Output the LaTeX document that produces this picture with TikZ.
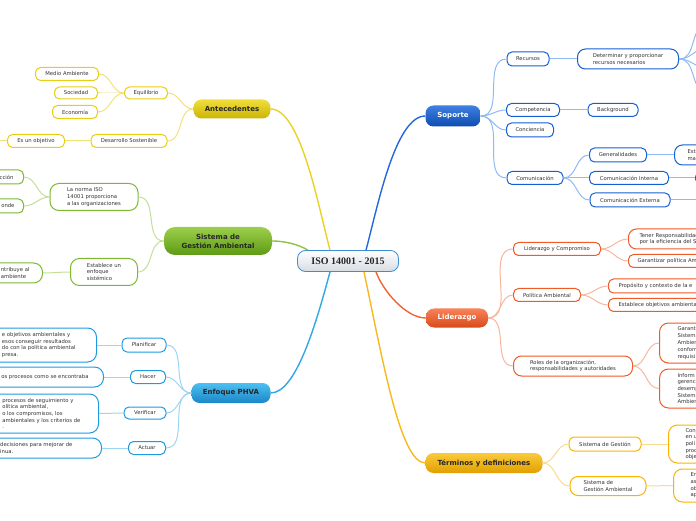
\documentclass[tikz,border=0pt]{standalone}
\usepackage{fontspec}
\setmainfont{DejaVu Sans}
\newfontfamily\isofont{Liberation Serif}
\usetikzlibrary{positioning}
\usepackage{xcolor}

\definecolor{isobord}{HTML}{3C8ED4}
\definecolor{isobot}{HTML}{D6DCE3}
\definecolor{ylwmain}{HTML}{E8D228}
\definecolor{ylwline}{HTML}{F2E27A}
\definecolor{ylwbord}{HTML}{E8CF10}
\definecolor{ylwtop}{HTML}{F0DE3C}
\definecolor{ylwbot}{HTML}{CCB406}
\definecolor{grnmain}{HTML}{8CC43C}
\definecolor{grnline}{HTML}{C4DF9A}
\definecolor{grnbord}{HTML}{7DB833}
\definecolor{grntop}{HTML}{9CCF4C}
\definecolor{grnbot}{HTML}{5E9A14}
\definecolor{cyanmain}{HTML}{2FA8E6}
\definecolor{cyanline}{HTML}{9CD6F4}
\definecolor{cyanbord}{HTML}{1E9BE0}
\definecolor{cyantop}{HTML}{4CC0F2}
\definecolor{cyanbot}{HTML}{1A86C8}
\definecolor{bluemain}{HTML}{2268DC}
\definecolor{blueline}{HTML}{90BAF2}
\definecolor{bluebord}{HTML}{1560D0}
\definecolor{bluetop}{HTML}{3E80E0}
\definecolor{bluebot}{HTML}{0E4CB0}
\definecolor{redmain}{HTML}{F06434}
\definecolor{redline}{HTML}{F8B69E}
\definecolor{redbord}{HTML}{F05A26}
\definecolor{redtop}{HTML}{F8825A}
\definecolor{redbot}{HTML}{D84A18}
\definecolor{orgmain}{HTML}{F8B820}
\definecolor{orgline}{HTML}{FADA90}
\definecolor{orgbord}{HTML}{F8B400}
\definecolor{orgtop}{HTML}{FACA3C}
\definecolor{orgbot}{HTML}{E2A000}

\begin{document}
\begin{tikzpicture}[x=1pt,y=1pt]

% Frame of the page
\useasboundingbox (0,0) rectangle (696,520);
\clip (0,0) rectangle (696,520);

% Define block styles
\tikzstyle{root} = [rectangle, rounded corners=8pt, minimum width=101pt, minimum height=21pt, draw=isobord, line width=0.8pt, top color=white, bottom color=isobot, font=\isofont\bfseries\fontsize{10}{12}\selectfont, text=black!85]
\tikzstyle{topic} = [rectangle, rounded corners=8pt, inner sep=0pt, align=center, font=\bfseries\fontsize{7}{9}\selectfont, text=black!85]
\tikzstyle{leaf} = [rectangle, rounded corners=5pt, inner sep=0pt, draw, fill=white, line width=1pt, align=left, text=black!80, font=\fontsize{5.3}{6.6}\selectfont]
\tikzstyle{bigleaf} = [leaf, rounded corners=9pt]
\tikzstyle{ylwleaf} = [leaf, draw=ylwbord]
\tikzstyle{grnleaf} = [leaf, draw=grnbord]
\tikzstyle{cyanleaf} = [leaf, draw=cyanbord]
\tikzstyle{blueleaf} = [leaf, draw=bluebord]
\tikzstyle{redleaf} = [leaf, draw=redbord]
\tikzstyle{orgleaf} = [leaf, draw=orgbord]
\tikzstyle{branch} = [line width=1.4pt]
\tikzstyle{twig} = [line width=1pt]

% Centre
\node (iso) [root] at (348,259) {ISO 14001 - 2015};

% Antecedentes
\node (ante) [topic, minimum width=77pt, minimum height=19pt, top color=ylwtop, bottom color=ylwbot] at (232,411) {Antecedentes};
\node (equil) [ylwleaf, minimum width=43pt, minimum height=12pt] at (146,427) {Equilibrio};
\node (medio) [ylwleaf, minimum width=63pt, minimum height=13pt] at (67,446) {Medio Ambiente};
\node (socie) [ylwleaf, minimum width=43pt, minimum height=12pt] at (76,427) {Sociedad};
\node (econo) [ylwleaf, minimum width=45pt, minimum height=13pt] at (75,408) {Economía};
\node (desar) [ylwleaf, minimum width=76pt, minimum height=13pt] at (129,379) {Desarrollo Sostenible};
\node (objet) [ylwleaf, minimum width=57pt, minimum height=13pt] at (36,379) {Es un objetivo};
\coordinate (objetend) at (-30,379);

% Sistema de Gestion Ambiental
\node (sga) [topic, minimum width=108pt, minimum height=28pt, rounded corners=11pt, top color=grntop, bottom color=grnbot] at (218,279) {Sistema de\\Gestión Ambiental};
\node (norma) [grnleaf, bigleaf, minimum width=88pt, minimum height=27pt] at (94,323) {La norma ISO\\14001 proporciona\\a las organizaciones};
\node (accion) [grnleaf, anchor=east, inner xsep=10pt, minimum height=14pt] at (24,343) {cción};
\node (onde) [grnleaf, anchor=east, inner xsep=9pt, minimum height=14pt] at (24,314) {onde};
\node (estab) [grnleaf, bigleaf, minimum width=67pt, minimum height=27pt] at (104,248) {Establece un\\enfoque\\sistémico};
\node (contri) [grnleaf, bigleaf, anchor=east, inner xsep=13pt, minimum height=20pt] at (43,247) {ntribuye al\\ambiente};

% Enfoque PHVA
\node (phva) [topic, minimum width=79pt, minimum height=20pt, top color=cyantop, bottom color=cyanbot] at (231,127) {Enfoque PHVA};
\node (plan) [cyanleaf, minimum width=44pt, minimum height=14pt] at (144,175) {Planificar};
\node (hacer) [cyanleaf, minimum width=35pt, minimum height=13pt] at (148,143) {Hacer};
\node (verif) [cyanleaf, minimum width=42pt, minimum height=12pt] at (145,107) {Verificar};
\node (actuar) [cyanleaf, minimum width=37pt, minimum height=13pt] at (147,72) {Actuar};
\node (planx) [cyanleaf, bigleaf, anchor=east, inner xsep=21pt, minimum height=34pt] at (97,175) {e objetivos ambientales y\\esos conseguir resultados\\do con la política ambiental\\presa.};
\node (hacerx) [cyanleaf, bigleaf, anchor=east, inner xsep=15pt, minimum height=20pt] at (104,143) {os procesos como se encontraba};
\node (verifx) [cyanleaf, bigleaf, anchor=east, inner xsep=18pt, minimum height=39pt] at (99,106.5) {procesos de seguimiento y\\olítica ambiental,\\o los compromisos, los\\ambientales y los criterios de\\.};
\node (actuarx) [cyanleaf, bigleaf, anchor=east, inner xsep=29pt, minimum height=20pt] at (102,72) {decisiones para mejorar de\\inua.};

% Soporte
\node (sop) [topic, minimum width=55pt, minimum height=21pt, top color=bluetop, bottom color=bluebot, text=white] at (453,404) {Soporte};
\node (recur) [blueleaf, minimum width=42pt, minimum height=14pt] at (528,461) {Recursos};
\node (deter) [blueleaf, rounded corners=8pt, minimum width=101pt, minimum height=20pt] at (628,461) {Determinar y proporcionar\\recursos necesarios};
\coordinate (deter1) at (706,497);
\coordinate (deter2) at (708,474);
\coordinate (deter3) at (708,450);
\coordinate (deter4) at (706,426);
\node (compe) [blueleaf, minimum width=53pt, minimum height=13pt] at (533,410) {Competencia};
\node (backg) [blueleaf, minimum width=50pt, minimum height=13pt] at (613,410) {Background};
\node (conci) [blueleaf, minimum width=47pt, minimum height=14pt] at (530,390) {Conciencia};
\node (comun) [blueleaf, minimum width=56pt, minimum height=13pt] at (535,342) {Comunicación};
\node (gener) [blueleaf, minimum width=57pt, minimum height=14pt] at (618,365) {Generalidades};
\node (cint) [blueleaf, minimum width=79pt, minimum height=13pt] at (629,342) {Comunicación Interna};
\node (cext) [blueleaf, minimum width=80pt, minimum height=14pt] at (630,320) {Comunicación Externa};
\node (esta) [blueleaf, rounded corners=8pt, anchor=west, inner xsep=13pt, minimum height=20pt] at (674,365) {Esta\\ma};
\node (cintx) [blueleaf, anchor=west, minimum width=30pt, minimum height=12pt] at (695,342) {};
\coordinate (cextend) at (712,320);

% Liderazgo
\node (lid) [topic, minimum width=62pt, minimum height=19pt, top color=redtop, bottom color=redbot, text=white] at (457,202) {Liderazgo};
\node (lidc) [redleaf, minimum width=87pt, minimum height=13pt] at (557,271) {Liderazgo y Compromiso};
\node (tener) [redleaf, rounded corners=8pt, anchor=west, inner xsep=11pt, minimum height=20pt] at (628,281) {Tener Responsabilidad\\por la eficiencia del S};
\node (garpol) [redleaf, anchor=west, inner xsep=9pt, minimum height=13pt] at (628,259) {Garantizar política Am};
\node (polamb) [redleaf, minimum width=67pt, minimum height=13pt] at (547,225) {Política Ambiental};
\node (propo) [redleaf, anchor=west, inner xsep=10pt, minimum height=14pt] at (608,234) {Propósito y contexto de la e};
\node (estobj) [redleaf, anchor=west, inner xsep=10pt, minimum height=13pt] at (608,215) {Establece objetivos ambienta};
\node (roles) [redleaf, rounded corners=8pt, minimum width=119pt, minimum height=20pt] at (573,154) {Roles de la organización,\\responsabilidades y autoridades};
\node (garant) [redleaf, bigleaf, anchor=west, inner xsep=18pt, minimum height=40pt, font=\fontsize{5.3}{7}\selectfont] at (659,177) {Garant\\Sistema\\Ambien\\conform\\requisi};
\node (inform) [redleaf, bigleaf, anchor=west, inner xsep=18pt, minimum height=39pt, font=\fontsize{5.3}{6.6}\selectfont] at (659,131.5) {Inform\\gerenci\\desemp\\Sistema\\Ambien};

% Terminos y definiciones
\node (term) [topic, minimum width=117pt, minimum height=20pt, top color=orgtop, bottom color=orgbot] at (484,57) {Términos y definiciones};
\node (sgest) [orgleaf, minimum width=72pt, minimum height=14pt] at (605,76) {Sistema de Gestión};
\node (sgamb) [orgleaf, rounded corners=8pt, minimum width=76pt, minimum height=19pt] at (608,34) {Sistema de\\Gestión Ambiental};
\node (conj) [orgleaf, bigleaf, anchor=west, inner xsep=17pt, minimum height=38pt] at (668,76) {Conj\\en u\\polí\\proc\\obje};
\node (enn) [orgleaf, bigleaf, anchor=west, inner xsep=17pt, minimum height=33pt] at (673,34.5) {En\\as\\ob\\ap};

% Main branches
\draw [branch, ylwmain] ([xshift=-18pt]iso.north) to[out=105, in=0, out distance=45pt, in distance=30pt] (ante.east);
\draw [branch, grnmain] ([xshift=-40pt]iso.north) to[out=150, in=0, out distance=12pt, in distance=12pt] (sga.east);
\draw [branch, bluemain] ([xshift=18pt]iso.north) to[out=75, in=180, out distance=45pt, in distance=30pt] (sop.west);
\draw [branch, cyanmain] ([xshift=-18pt]iso.south) to[out=-105, in=0, out distance=55pt, in distance=25pt] (phva.east);
\draw [branch, redmain] ([xshift=28pt]iso.south) to[out=-70, in=180, out distance=20pt, in distance=20pt] (lid.west);
\draw [branch, orgmain] ([xshift=16pt]iso.south) to[out=-78, in=180, out distance=90pt, in distance=25pt] (term.west);

% Antecedentes arrows
\draw [twig, ylwline] (ante.west) to[out=180, in=0] (equil.east);
\draw [twig, ylwline] (ante.west) to[out=180, in=0] (desar.east);
\draw [twig, ylwline] (equil.west) to[out=180, in=0] (medio.east);
\draw [twig, ylwline] (equil.west) to[out=180, in=0] (socie.east);
\draw [twig, ylwline] (equil.west) to[out=180, in=0] (econo.east);
\draw [twig, ylwline] (desar.west) -- (objet.east);
\draw [twig, ylwline] (objet.west) -- (objetend);

% Sistema arrows
\draw [twig, grnline] (sga.west) to[out=180, in=0] (norma.east);
\draw [twig, grnline] (sga.west) to[out=180, in=0] (estab.east);
\draw [twig, grnline] (norma.west) to[out=180, in=0] (accion.east);
\draw [twig, grnline] (norma.west) to[out=180, in=0] (onde.east);
\draw [twig, grnline] (estab.west) to[out=180, in=0] (contri.east);

% PHVA arrows
\draw [twig, cyanline] (phva.west) to[out=180, in=0] (plan.east);
\draw [twig, cyanline] (phva.west) to[out=180, in=0] (hacer.east);
\draw [twig, cyanline] (phva.west) to[out=180, in=0] (verif.east);
\draw [twig, cyanline] (phva.west) to[out=180, in=0] (actuar.east);
\draw [twig, cyanline] (plan.west) -- (planx.east);
\draw [twig, cyanline] (hacer.west) -- (hacerx.east);
\draw [twig, cyanline] (verif.west) -- (verifx.east);
\draw [twig, cyanline] (actuar.west) -- (actuarx.east);

% Soporte arrows
\draw [twig, blueline] (sop.east) to[out=0, in=180] (recur.west);
\draw [twig, blueline] (sop.east) to[out=0, in=180] (compe.west);
\draw [twig, blueline] (sop.east) to[out=0, in=180] (conci.west);
\draw [twig, blueline] (sop.east) to[out=0, in=180] (comun.west);
\draw [twig, blueline] (recur.east) -- (deter.west);
\draw [twig, blueline] (deter.east) to[out=0, in=200] (deter1);
\draw [twig, blueline] (deter.east) to[out=0, in=190] (deter2);
\draw [twig, blueline] (deter.east) to[out=0, in=170] (deter3);
\draw [twig, blueline] (deter.east) to[out=0, in=160] (deter4);
\draw [twig, blueline] (compe.east) -- (backg.west);
\draw [twig, blueline] (comun.east) to[out=0, in=180] (gener.west);
\draw [twig, blueline] (comun.east) -- (cint.west);
\draw [twig, blueline] (comun.east) to[out=0, in=180] (cext.west);
\draw [twig, blueline] (gener.east) -- (esta.west);
\draw [twig, blueline] (cint.east) -- (cintx.west);
\draw [twig, blueline] (cext.east) -- (cextend);

% Liderazgo arrows
\draw [twig, redline] (lid.east) to[out=0, in=180] (lidc.west);
\draw [twig, redline] (lid.east) to[out=0, in=180] (polamb.west);
\draw [twig, redline] (lid.east) to[out=0, in=180] (roles.west);
\draw [twig, redline] (lidc.east) to[out=0, in=180] (tener.west);
\draw [twig, redline] (lidc.east) to[out=0, in=180] (garpol.west);
\draw [twig, redline] (polamb.east) to[out=0, in=180] (propo.west);
\draw [twig, redline] (polamb.east) to[out=0, in=180] (estobj.west);
\draw [twig, redline] (roles.east) to[out=0, in=180] (garant.west);
\draw [twig, redline] (roles.east) to[out=0, in=180] (inform.west);

% Terminos arrows
\draw [twig, orgline] (term.east) to[out=0, in=180] (sgest.west);
\draw [twig, orgline] (term.east) to[out=0, in=180] (sgamb.west);
\draw [twig, orgline] (sgest.east) -- (conj.west);
\draw [twig, orgline] (sgamb.east) -- (enn.west);

\end{tikzpicture}
\end{document}
